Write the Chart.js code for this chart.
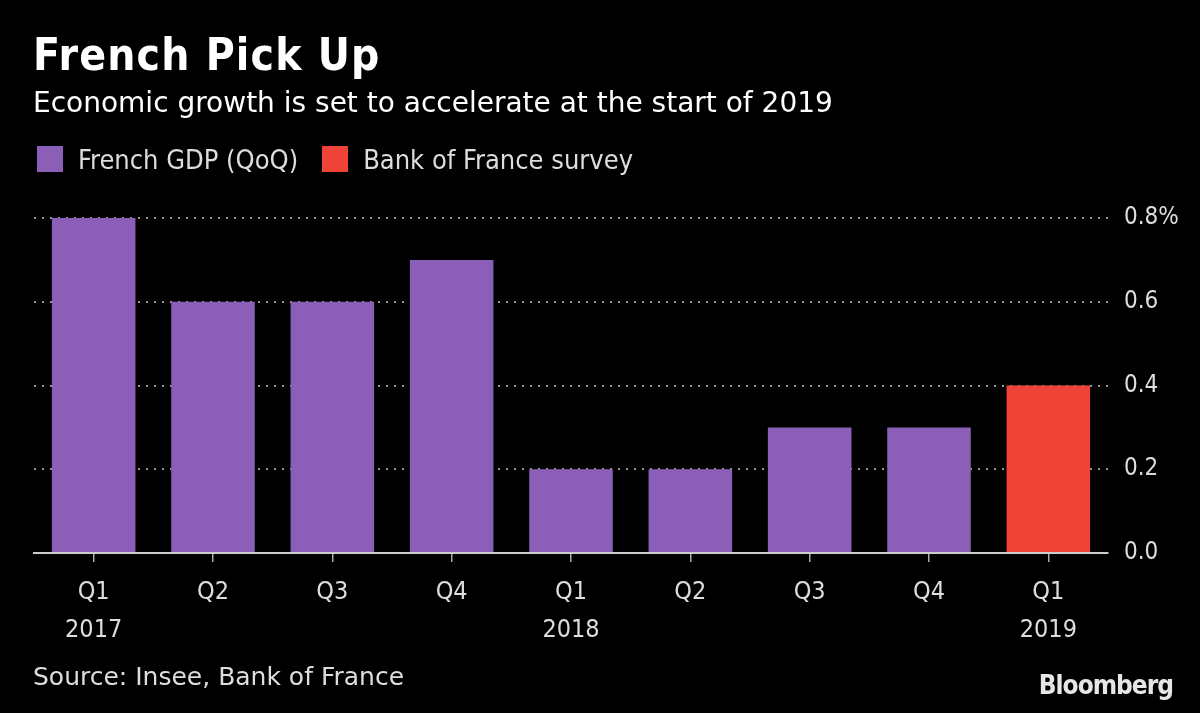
<!DOCTYPE html>
<html>
<head>
<meta charset="utf-8">
<script src="https://cdn.jsdelivr.net/npm/chart.js@4.4.1/dist/chart.umd.min.js"></script>
<style>
  html, body { margin: 0; padding: 0; background: #000; }
  #wrap { position: relative; width: 1200px; height: 713px; background: #000; overflow: hidden;
          font-family: "DejaVu Sans Condensed", "DejaVu Sans", sans-serif; }
  #title { position: absolute; left: 33px; top: 29px; font-size: 44px; font-weight: bold; color: #fff; letter-spacing: 1.2px; }
  #subtitle { position: absolute; left: 33px; top: 86px; font-family: "DejaVu Sans", sans-serif; font-size: 28px; color: #fff; }
  #legend { position: absolute; left: 33px; top: 144px; font-size: 27px; color: #ddd; }
  #legend span.sw { display: inline-block; width: 26px; height: 26px; vertical-align: -3px; margin: 0 15px 0 4px; }
  #legend span.lb { margin-right: 20px; }
  #source { position: absolute; left: 33px; top: 662px; font-family: "DejaVu Sans", sans-serif; font-size: 25px; color: #ddd; }
  #logo { position: absolute; right: 27px; top: 670px; font-family: "Liberation Sans Narrow", "DejaVu Sans Condensed", sans-serif;
          font-size: 26px; font-weight: bold; color: #e6e6e6; letter-spacing: -1px; }
  canvas { position: absolute; left: 0; top: 0; }
</style>
</head>
<body>
<div id="wrap">
  <canvas id="wykres" width="1200" height="713"></canvas>
  <div id="title">French Pick Up</div>
  <div id="subtitle">Economic growth is set to accelerate at the start of 2019</div>
  <div id="legend">
    <span class="sw" style="background:#8b5fb8"></span><span class="lb">French GDP (QoQ)</span><span class="sw" style="background:#ee4336"></span><span class="lb">Bank of France survey</span>
  </div>
  <div id="source">Source: Insee, Bank of France</div>
  <div id="logo">Bloomberg</div>
</div>
<script>
var kwartaly = [["Q1", "2017"], ["Q2", ""], ["Q3", ""], ["Q4", ""], ["Q1", "2018"], ["Q2", ""], ["Q3", ""], ["Q4", ""], ["Q1", "2019"]];
var pkb = [0.8, 0.6, 0.6, 0.7, 0.2, 0.2, 0.3, 0.3, null]; // French GDP (QoQ)
var ankieta = [null, null, null, null, null, null, null, null, 0.4]; // Bank of France survey
var osY = [0, 0.2, 0.4, 0.6, 0.8];
var osYEtykiety = ["0.0", "0.2", "0.4", "0.6", "0.8%"];

var kolorPkb = "#8b5fb8";
var kolorAnkieta = "#ee4336";

var ctx = document.getElementById("wykres");

new Chart(ctx, {
  type: 'bar',
  data: {
    labels: kwartaly,
    datasets: [{
        label: "French GDP (QoQ)",
        data: pkb,
        backgroundColor: kolorPkb,
        categoryPercentage: 1,
        barPercentage: 0.7,
        grouped: false
      },
      {
        label: "Bank of France survey",
        data: ankieta,
        backgroundColor: kolorAnkieta,
        categoryPercentage: 1,
        barPercentage: 0.7,
        grouped: false
      }
    ]
  },
  options: {
    responsive: false,
    animation: false,
    layout: { padding: { left: 34, top: 218, right: 0, bottom: 0 } },
    plugins: {
      legend: { display: false },
      title: { display: false },
      tooltip: { enabled: false }
    },
    scales: {
      x: {
        offset: true,
        grid: {
          offset: false,
          drawOnChartArea: false,
          drawTicks: true,
          tickLength: 9,
          color: "#aaaaaa",
          lineWidth: 1.5
        },
        border: { display: true, color: "#cccccc", width: 2 },
        ticks: {
          color: "#dddddd",
          padding: 12,
          maxRotation: 0,
          autoSkip: false,
          font: { family: "DejaVu Sans Condensed", size: 25, lineHeight: 1.5 }
        },
        afterFit: function (scale) { scale.height = 160; }
      },
      y: {
        position: 'right',
        min: 0,
        max: 0.8,
        afterBuildTicks: function (scale) {
          scale.ticks = osY.map(function (v) { return { value: v }; });
        },
        grid: {
          drawTicks: false,
          color: function (c) { return c.tick.value === 0 ? "rgba(0,0,0,0)" : "#959595"; },
          lineWidth: 2
        },
        border: { display: false, dash: [2, 6] },
        ticks: {
          color: "#dddddd",
          padding: 16,
          font: { family: "DejaVu Sans Condensed", size: 24 },
          callback: function (v) {
            var i = osY.indexOf(v);
            return i >= 0 ? osYEtykiety[i] : "";
          }
        },
        afterFit: function (scale) { scale.width = 92; }
      }
    }
  }
});
</script>
</body>
</html>
